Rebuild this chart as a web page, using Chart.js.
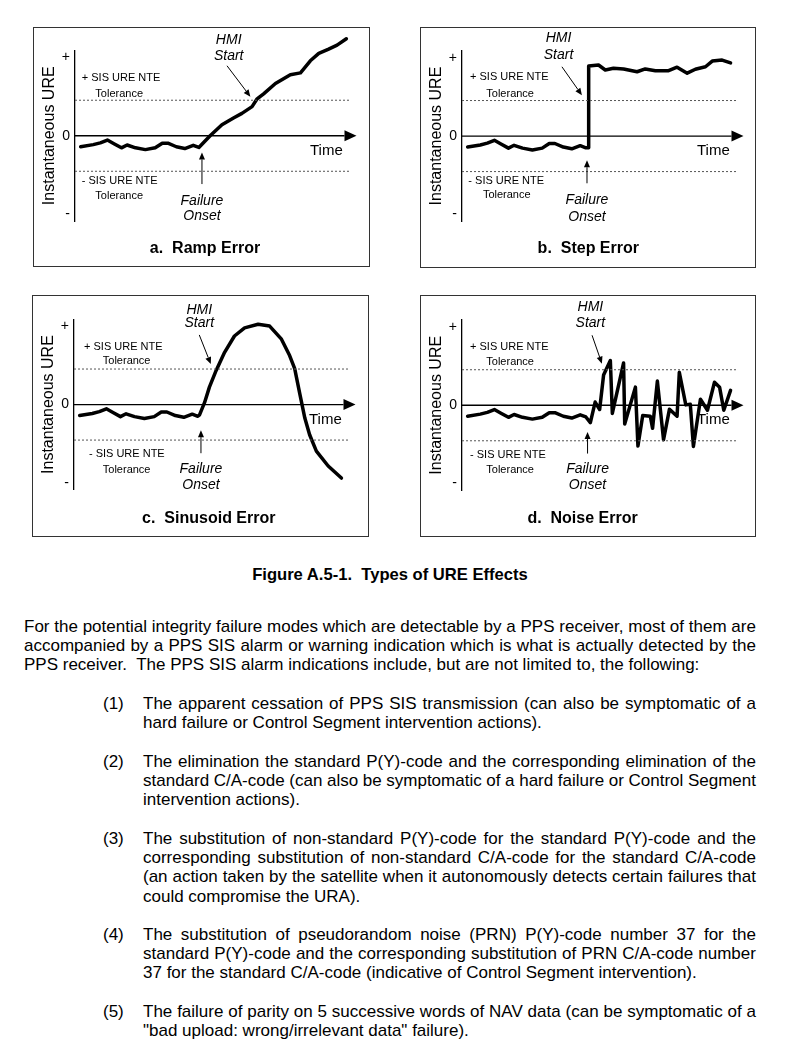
<!DOCTYPE html>
<html>
<head>
<meta charset="utf-8">
<script src="https://cdn.jsdelivr.net/npm/chart.js@4.4.1/dist/chart.umd.min.js"></script>
<style>
  html,body{margin:0;padding:0;background:#fff;}
  body{width:803px;height:1059px;position:relative;overflow:hidden;font-family:'Liberation Sans',Arial,Helvetica,sans-serif;color:#000;}
  .panel{position:absolute;border:1px solid #333;box-sizing:border-box;background:#fff;}
  .panel canvas{position:absolute;left:0;top:0;}
  .blk{position:absolute;font-size:17px;line-height:19.2px;}
  .ln{height:19.2px;white-space:pre;}
  .ln.j{display:flex;justify-content:space-between;white-space:nowrap;}
  .cap{position:absolute;left:0;width:780px;text-align:center;font-weight:bold;font-size:16.6px;line-height:19.2px;white-space:pre;}
</style>
</head>
<body>
<div class="panel" id="pa"><canvas id="ca"></canvas></div>
<div class="panel" id="pb"><canvas id="cb"></canvas></div>
<div class="panel" id="pc"><canvas id="cc"></canvas></div>
<div class="panel" id="pd"><canvas id="cd"></canvas></div>
<div class="cap" style="top:565px;">Figure A.5-1.  Types of URE Effects</div>
<script>
// ---------------- DATA ----------------
// shared pre-failure behaviour (time units 0..100, URE in tolerance units)
const baselineX = [2, 6.5, 9, 11.5, 14, 16.5, 18.5, 21.5, 25, 28.5, 31, 33, 36, 39, 42, 44];
const baselineY = [-0.31, -0.25, -0.2, -0.12, -0.23, -0.34, -0.26, -0.34, -0.39, -0.34, -0.21, -0.21, -0.31, -0.36, -0.27, -0.33];

// a. Ramp error
const rampX = [48, 52.2, 56.3, 59.3, 62.9, 64.7, 67, 71.2, 76.5, 80.1, 83.6, 86.6, 90.1, 93.1, 96.4];
const rampY = [0, 0.31, 0.5, 0.63, 0.82, 1.04, 1.18, 1.47, 1.72, 1.77, 2.11, 2.32, 2.44, 2.55, 2.73];

// b. Step error
const stepX = [44.8, 45.0, 48.5, 50.9, 53.8, 57.4, 62.2, 65.1, 68.7, 73.4, 76.4, 80.0, 82.9, 86.5, 88.9, 92.4, 95.4];
const stepY = [-0.33, 1.97, 2.0, 1.86, 1.91, 1.89, 1.81, 1.89, 1.84, 1.84, 1.94, 1.77, 1.88, 1.95, 2.11, 2.14, 2.06];

// c. Sinusoid error
const sineX = [44.6, 46.4, 48.1, 50.5, 53.5, 57.0, 60.6, 65.4, 69.5, 73.7, 76.6, 78.4, 80.2, 82.0, 83.7, 86.1, 90.3, 95.0];
const sineY = [-0.29, 0.06, 0.49, 0.96, 1.47, 1.93, 2.16, 2.26, 2.21, 1.84, 1.38, 1.01, 0.31, -0.38, -0.85, -1.31, -1.73, -2.07];

// d. Noise error
const noiseX = [45.6, 47.3, 48.9, 50.3, 52.7, 53.4, 57.4, 57.8, 61.6, 62.5, 64.2, 66.9, 67.7, 69.4, 71.6, 73.7, 76.4, 77.2, 79.5, 81.1, 82.2, 84.7, 87.2, 89.7, 91.5, 93.0, 95.4];
const noiseY = [-0.49, 0.09, -0.12, 0.85, 1.26, -0.23, 1.19, -0.53, 0.51, -1.15, -0.29, -0.31, -0.65, 0.68, -0.97, -0.11, -0.31, 0.93, 0.01, 0.03, -1.16, 0.17, -0.14, 0.65, 0.51, -0.14, 0.42];

// tolerance (SIS URE NTE) and axis ticks
const tolerance = 1;
const toleranceX = [0, 97.5];
const yTickValues = [2.2, 0, -2.2];
const yTickLabels = ['+', '0', '-'];
const captions = ['a.  Ramp Error', 'b.  Step Error', 'c.  Sinusoid Error', 'd.  Noise Error'];

// ---------------- LAYOUT ----------------
const FONT = "'Liberation Sans', Arial, Helvetica, sans-serif";
const layouts = [
  { pid:'pa', cid:'ca', box:[33,27,337,240], padTop:22.5, cap:[171,220.3], fx:rampX, fy:rampY,
    up:[2.4,1.63], upTol:[15.7,1.17], lo:[2.4,-1.28], loTol:[15.7,-1.70],
    hmi:[54.6,2.68,2.25], hmiArrow:[54.0,1.97,62.3,1.10], fail:[45.1,-1.83,-2.25], failArrow:[45.1,-1.36,45.1,-0.47] },
  { pid:'pb', cid:'cb', box:[420,27,336,241], padTop:22.8, cap:[167.3,220.3], fx:stepX, fy:stepY,
    up:[2.85,1.65], upTol:[17.1,1.18], lo:[2.25,-1.27], loTol:[15.9,-1.66],
    hmi:[34.3,2.75,2.28], hmiArrow:[35.5,1.95,42.6,1.15], fail:[44.4,-1.80,-2.27], failArrow:[44.4,-1.33,44.4,-0.68] },
  { pid:'pc', cid:'cc', box:[32,295,337,242], padTop:23.3, cap:[175.8,222.3], fx:sineX, fy:sineY,
    up:[3.56,1.61], upTol:[18.7,1.23], lo:[5.3,-1.39], loTol:[18.7,-1.85],
    hmi:[44.5,2.66,2.29], hmiArrow:[44.5,1.96,48.6,1.14], fail:[45.1,-1.82,-2.27], failArrow:[45.1,-1.37,45.1,-0.72] },
  { pid:'pd', cid:'cd', box:[420,295,336,242], padTop:24, cap:[161.5,222.3], fx:noiseX, fy:noiseY,
    up:[2.85,1.63], upTol:[17.1,1.22], lo:[2.85,-1.39], loTol:[17.1,-1.83],
    hmi:[45.6,2.77,2.30], hmiArrow:[46.2,1.97,49.7,1.17], fail:[44.6,-1.80,-2.25], failArrow:[44.6,-1.36,44.6,-0.75] }
];

function drawArrow(ctx, x1, y1, x2, y2, len, half) {
  const a = Math.atan2(y2 - y1, x2 - x1);
  const bx = x2 - len * Math.cos(a), by = y2 - len * Math.sin(a);
  ctx.beginPath(); ctx.moveTo(x1, y1); ctx.lineTo(bx, by); ctx.stroke();
  ctx.beginPath(); ctx.moveTo(x2, y2);
  ctx.lineTo(bx + half * Math.sin(a), by - half * Math.cos(a));
  ctx.lineTo(bx - half * Math.sin(a), by + half * Math.cos(a));
  ctx.closePath(); ctx.fill();
}

const urePlugin = {
  id: 'ure',
  beforeDatasetsDraw(chart, args, o) {
    const { ctx, chartArea: ca, scales: { y } } = chart;
    const y0 = y.getPixelForValue(0);
    ctx.save();
    ctx.strokeStyle = '#000'; ctx.fillStyle = '#000'; ctx.lineWidth = 1.3;
    drawArrow(ctx, ca.left, y0, ca.right, y0, 12, 5.5);
    ctx.restore();
  },
  afterDraw(chart, args, o) {
    const { ctx, scales: { x, y } } = chart;
    const px = v => x.getPixelForValue(v), py = v => y.getPixelForValue(v);
    ctx.save();
    ctx.fillStyle = '#000'; ctx.strokeStyle = '#000';
    ctx.textBaseline = 'middle';
    ctx.font = `11px ${FONT}`;
    ctx.textAlign = 'left';
    ctx.fillText('+ SIS URE NTE', px(o.up[0]), py(o.up[1]));
    ctx.fillText('- SIS URE NTE', px(o.lo[0]), py(o.lo[1]));
    ctx.textAlign = 'center';
    ctx.fillText('Tolerance', px(o.upTol[0]), py(o.upTol[1]));
    ctx.fillText('Tolerance', px(o.loTol[0]), py(o.loTol[1]));
    ctx.font = `15px ${FONT}`;
    ctx.fillText('Time', px(89.3), py(-0.42));
    ctx.font = `italic 14px ${FONT}`;
    ctx.fillText('HMI', px(o.hmi[0]), py(o.hmi[1]));
    ctx.fillText('Start', px(o.hmi[0]), py(o.hmi[2]));
    ctx.fillText('Failure', px(o.fail[0]), py(o.fail[1]));
    ctx.fillText('Onset', px(o.fail[0]), py(o.fail[2]));
    ctx.lineWidth = 1;
    const h = o.hmiArrow, f = o.failArrow;
    drawArrow(ctx, px(h[0]), py(h[1]), px(h[2]), py(h[3]), 7, 3);
    drawArrow(ctx, px(f[0]), py(f[1]), px(f[2]), py(f[3]), 7, 3);
    ctx.font = `bold 16px ${FONT}`;
    ctx.fillText(o.caption, o.cap[0], o.cap[1]);
    ctx.restore();
  }
};

layouts.forEach((L, i) => {
  const [bl, bt, bw, bh] = L.box;
  const panel = document.getElementById(L.pid);
  Object.assign(panel.style, { left: bl + 'px', top: bt + 'px', width: bw + 'px', height: bh + 'px' });
  const W = bw - 2, H = bh - 2;
  const cv = document.getElementById(L.cid);
  cv.width = W; cv.height = H; cv.style.width = W + 'px'; cv.style.height = H + 'px';

  const curve = baselineX.map((x, k) => ({ x, y: baselineY[k] }))
    .concat(L.fx.map((x, k) => ({ x, y: L.fy[k] })));
  const tolLine = s => toleranceX.map(x => ({ x, y: s * tolerance }));
  const dotted = { borderColor: '#555', borderWidth: 1, borderDash: [2, 2], pointRadius: 0, fill: false };

  new Chart(cv, {
    type: 'line',
    data: {
      datasets: [
        Object.assign({ data: tolLine(1) }, dotted),
        Object.assign({ data: tolLine(-1) }, dotted),
        { data: curve, borderColor: '#000', borderWidth: 3.5, pointRadius: 0, tension: 0,
          borderJoinStyle: 'round', borderCapStyle: 'round', fill: false, clip: false }
      ]
    },
    options: {
      responsive: false, animation: false, devicePixelRatio: 1, events: [],
      layout: { padding: { left: 0, top: L.padTop, right: W - 322.5, bottom: H - L.padTop - 170.5 } },
      plugins: {
        legend: { display: false }, tooltip: { enabled: false }, title: { display: false },
        ure: Object.assign({ caption: captions[i] }, L)
      },
      scales: {
        x: { type: 'linear', min: 0, max: 100, display: false },
        y: {
          type: 'linear', min: -2.4, max: 2.4,
          afterBuildTicks: s => { s.ticks = yTickValues.map(v => ({ value: v })); },
          afterFit: s => { s.width = 41; },
          grid: { display: false, drawTicks: false },
          border: { display: true, color: '#000', width: 1.3 },
          ticks: { padding: 5, color: '#000', font: { size: 14, family: FONT },
                   callback: (v, k) => yTickLabels[k] },
          title: { display: true, text: 'Instantaneous URE', color: '#000',
                   font: { size: 16, family: FONT }, padding: { top: 5.5, bottom: 0 } }
        }
      }
    },
    plugins: [urePlugin]
  });
});

// ---------------- TEXT BELOW THE FIGURE ----------------
const introLines = [
  ['For the potential integrity failure modes which are detectable by a PPS receiver, most of them are', true],
  ['accompanied by a PPS SIS alarm or warning indication which is what is actually detected by the', true],
  ['PPS receiver.  The PPS SIS alarm indications include, but are not limited to, the following:', false]
];
const items = [
  { num: '(1)', top: 694, lines: [
    ['The apparent cessation of PPS SIS transmission (can also be symptomatic of a', true],
    ['hard failure or Control Segment intervention actions).', false]] },
  { num: '(2)', top: 752, lines: [
    ['The elimination the standard P(Y)-code and the corresponding elimination of the', true],
    ['standard C/A-code (can also be symptomatic of a hard failure or Control Segment', true],
    ['intervention actions).', false]] },
  { num: '(3)', top: 829, lines: [
    ['The substitution of non-standard P(Y)-code for the standard P(Y)-code and the', true],
    ['corresponding substitution of non-standard C/A-code for the standard C/A-code', true],
    ['(an action taken by the satellite when it autonomously detects certain failures that', true],
    ['could compromise the URA).', false]] },
  { num: '(4)', top: 925, lines: [
    ['The substitution of pseudorandom noise (PRN) P(Y)-code number 37 for the', true],
    ['standard P(Y)-code and the corresponding substitution of PRN C/A-code number', true],
    ['37 for the standard C/A-code (indicative of Control Segment intervention).', false]] },
  { num: '(5)', top: 1002, lines: [
    ['The failure of parity on 5 successive words of NAV data (can be symptomatic of a', true],
    ['"bad upload: wrong/irrelevant data" failure).', false]] }
];

function addBlock(top, left, width, lines) {
  const div = document.createElement('div');
  div.className = 'blk';
  Object.assign(div.style, { top: top + 'px', left: left + 'px', width: width + 'px' });
  lines.forEach(([text, just]) => {
    const ln = document.createElement('div');
    ln.className = 'ln';
    if (just) {
      ln.classList.add('j');
      text.split(' ').forEach(w => { const s = document.createElement('span'); s.textContent = w; ln.appendChild(s); });
    } else {
      ln.textContent = text;
    }
    div.appendChild(ln);
  });
  document.body.appendChild(div);
}
addBlock(617, 24, 732, introLines);
items.forEach(it => {
  addBlock(it.top, 103, 40, [[it.num, false]]);
  addBlock(it.top, 143, 613, it.lines);
});
</script>
</body>
</html>
